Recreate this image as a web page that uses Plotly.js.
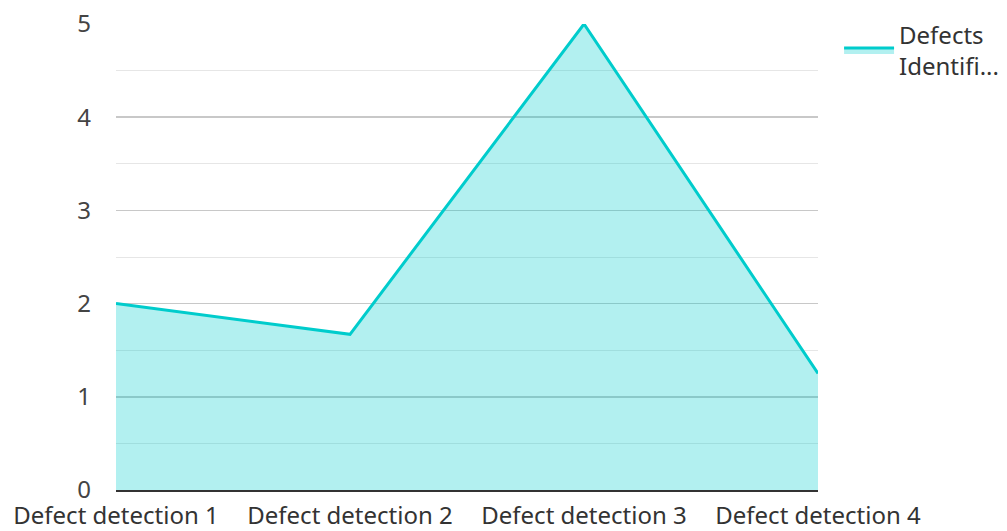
<!DOCTYPE html>
<html>
<head>
<meta charset="utf-8">
<script src="https://cdn.plot.ly/plotly-3.0.1.min.js"></script>
<style>html,body{margin:0;padding:0;background:#fff;}#chart{width:1007px;height:531px;}</style>
</head>
<body>
<div id="chart"></div>
<script>
const categories = ["Defect detection 1", "Defect detection 2", "Defect detection 3", "Defect detection 4"];
const defectsIdentified = [2, 1.67, 5, 1.25];
const seriesName = "Defects<br>Identifi...";
const yTicks = [0, 1, 2, 3, 4, 5];

const trace = {
  x: categories,
  y: defectsIdentified,
  type: 'scatter',
  mode: 'lines',
  name: seriesName,
  fill: 'tozeroy',
  fillcolor: 'rgba(0,204,204,0.3)',
  line: {color: 'rgb(0,204,204)', width: 3}
};

const layout = {
  width: 1007, height: 531,
  margin: {l: 116, r: 189, t: 24, b: 41, autoexpand: false},
  paper_bgcolor: '#fff', plot_bgcolor: '#fff',
  font: {family: 'Noto Sans, Open Sans, sans-serif', size: 24, color: '#444'},
  showlegend: true,
  legend: {x: 1.03, xanchor: 'left', y: 1.025, yanchor: 'top', itemwidth: 50,
           font: {size: 24, color: '#333'}},
  xaxis: {
    type: 'category', range: [0, 3], showgrid: false, zeroline: false,
    showline: true, linecolor: '#333', linewidth: 2,
    ticks: '', ticklabelstandoff: 3, tickfont: {size: 24, color: '#333'}
  },
  yaxis: {
    range: [0, 5], tickvals: yTicks, showgrid: true, gridcolor: '#c8c8c8', gridwidth: 1.5,
    zeroline: false, showline: false, ticks: '', ticklabelstandoff: 24,
    tickfont: {size: 24, color: '#444'},
    minor: {dtick: 0.5, showgrid: true, gridcolor: '#e6e6e6', gridwidth: 1}
  }
};

Plotly.newPlot('chart', [trace], layout, {displayModeBar: false, staticPlot: true});
</script>
</body>
</html>
